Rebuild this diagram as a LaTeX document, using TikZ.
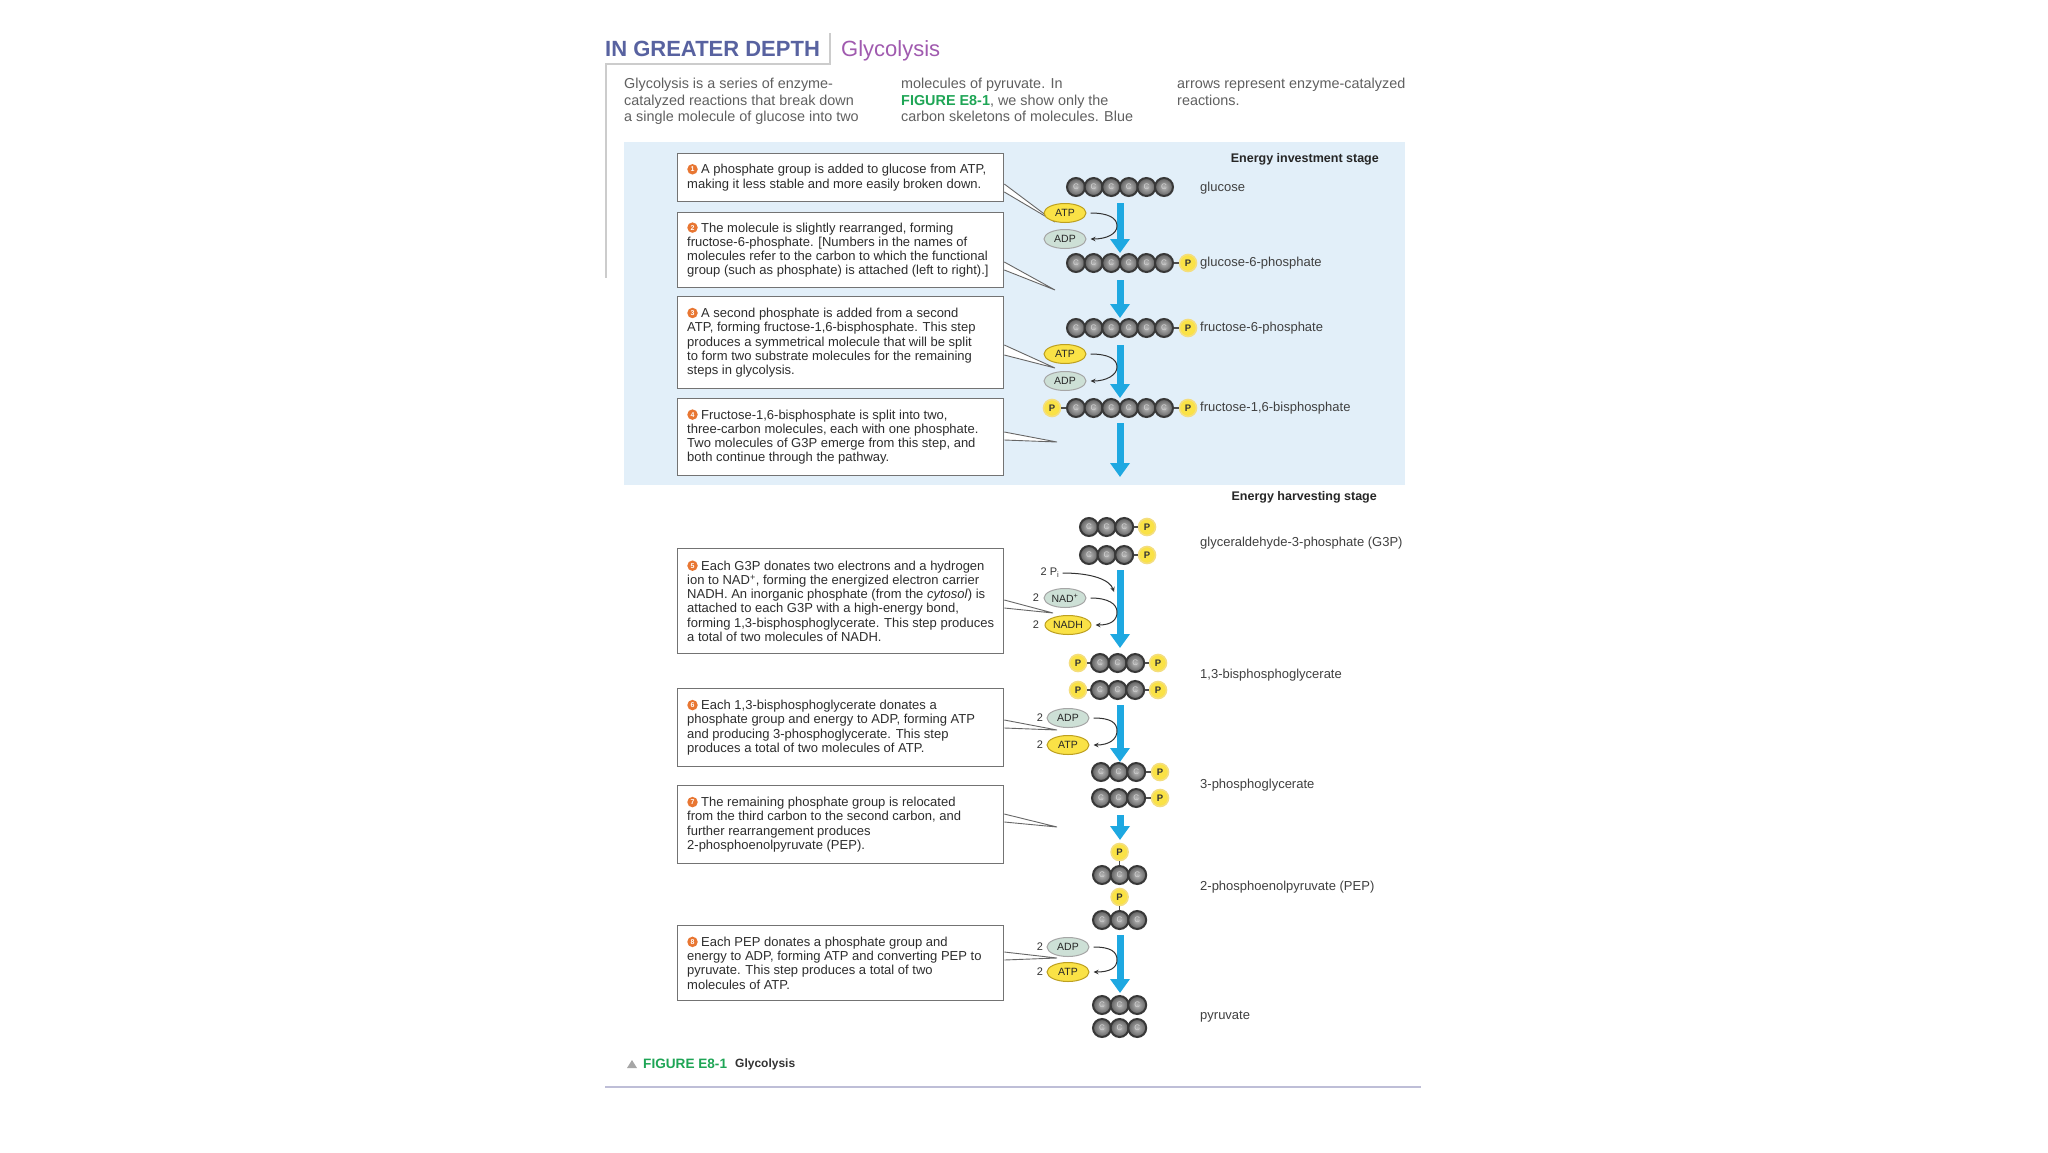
\documentclass[tikz,border=0pt]{standalone}
\usepackage{fontspec}
\setmainfont{Liberation Sans}
\usetikzlibrary{arrows.meta,shapes.geometric}
\definecolor{arrowblue}{RGB}{30,168,225}
\definecolor{panelblue}{RGB}{226,239,249}
\definecolor{titleblue}{RGB}{88,98,160}
\definecolor{titlepurple}{RGB}{160,90,175}
\definecolor{figgreen}{RGB}{30,165,85}
\definecolor{pyellow}{RGB}{250,226,70}
\definecolor{pedge}{RGB}{236,200,40}
\definecolor{cofgray}{RGB}{205,224,214}
\definecolor{numorange}{RGB}{232,118,50}
\definecolor{bodytext}{RGB}{45,45,45}
\newcommand{\chain}[4]{%
  \foreach \k in {1,...,#4} {\node[carbon] (#1\k) at ({#2+(\k-1)*17.6},#3) {C};}}
\newcommand{\callout}[4]{%
  \fill[white] (#1.east |- 0,#2) -- (#4) -- (#1.east |- 0,#3) -- cycle;
  \draw[wedgeline] (#1.east |- 0,#2) -- (#4) -- (#1.east |- 0,#3);}
\newcommand{\loopcurve}[3]{%
  \draw[curvearr] ([xshift=4pt]#1.east) .. controls +(18,0) and +(0,-8) .. (#3)
    .. controls +(0,8) and +(16,0) .. ([xshift=4pt]#2.east);}
\begin{document}
\begin{tikzpicture}[x=1pt,y=-1pt,
  carbon/.style={circle, minimum size=18pt, inner sep=0pt, draw=black!78, line width=2pt,
    inner color=gray!55, outer color=black!62, text=gray!35, font=\fontsize{8}{8}\selectfont},
  phos/.style={circle, minimum size=17pt, inner sep=0pt, fill=pyellow, draw=pedge!60, line width=1.6pt,
    font=\fontsize{9.5}{9.5}\selectfont\bfseries, text=black!80},
  bond/.style={draw=black!70, line width=1.4pt},
  cofy/.style={ellipse, minimum width=42pt, minimum height=19pt, inner sep=0pt, fill=pyellow,
    draw=pedge!80!black, line width=1pt, font=\fontsize{10.5}{10.5}\selectfont, text=black!85},
  cofg/.style={cofy, fill=cofgray, draw=gray!70},
  bluearr/.style={draw=arrowblue, line width=7pt, -{Triangle[width=19pt,length=14pt]}},
  curvearr/.style={draw=black!80, line width=1pt, -{Stealth[length=5pt,width=4.5pt]}},
  txtbox/.style={draw=black!55, line width=1.3pt, fill=white, inner sep=0pt, minimum width=326pt, anchor=north west},
  btext/.style={font=\fontsize{13}{14.2}\selectfont, text=bodytext, align=left, inner sep=0pt, anchor=west},
  numc/.style={circle, fill=numorange, inner sep=0pt, minimum size=10.5pt, text=white, font=\fontsize{7}{7}\selectfont\bfseries},
  wedgeline/.style={draw=black!60, line width=0.9pt},
  lbl/.style={font=\fontsize{13}{13}\selectfont, text=black!75, anchor=west, inner sep=0pt},
  stage/.style={font=\fontsize{12.5}{12.5}\selectfont\bfseries, text=black!85, anchor=east, inner sep=0pt},
  intro/.style={font=\fontsize{14.4}{16.5}\selectfont, text=gray!75!black, align=left, inner sep=0pt, anchor=north west},
  num2/.style={font=\fontsize{11}{11}\selectfont, text=black!80, inner sep=0pt}
]
\useasboundingbox (0,0) rectangle (2048,1152);
\fill[white] (0,0) rectangle (2048,1152);

% header
\draw[gray!40, line width=1.5pt] (830,33) -- (830,64) -- (606,64) -- (606,278);
\node[anchor=base west, font=\fontsize{22}{22}\selectfont\bfseries, text=titleblue, inner sep=0pt] (ttl) at (605,56) {IN GREATER DEPTH};
\node[anchor=base west, font=\fontsize{22}{22}\selectfont, text=titlepurple, inner sep=0pt] (sub) at (841,56) {Glycolysis};
\node[intro] (i1) at (624,78) {Glycolysis is a series of enzyme-\\catalyzed reactions that break down\\a single molecule of glucose into two};
\node[intro] (i2) at (901,78) {molecules of pyruvate. In\\{\color{figgreen}\bfseries FIGURE E8-1}, we show only the\\carbon skeletons of molecules. Blue};
\node[intro] (i3) at (1177,78) {arrows represent enzyme-catalyzed\\reactions.};

% panel
\fill[panelblue] (624,142) rectangle (1405,485);
\node[stage] (st1) at (1379,159) {Energy investment stage};
\node[stage] (st2) at (1377,497) {Energy harvesting stage};

% text boxes
\node[txtbox, minimum height=48pt] (b1) at (677,153) {};
\node[txtbox, minimum height=75pt] (b2) at (677,212) {};
\node[txtbox, minimum height=92pt] (b3) at (677,296) {};
\node[txtbox, minimum height=77pt] (b4) at (677,398) {};
\node[txtbox, minimum height=105pt] (b5) at (677,548) {};
\node[txtbox, minimum height=78pt] (b6) at (677,688) {};
\node[txtbox, minimum height=78pt] (b7) at (677,785) {};
\node[txtbox, minimum height=75pt] (b8) at (677,925) {};

\node[btext] (t1) at ([xshift=10pt]b1.west) {\hspace*{14pt}A phosphate group is added to glucose from ATP,\\making it less stable and more easily broken down.};
\node[btext] (t2) at ([xshift=10pt]b2.west) {\hspace*{14pt}The molecule is slightly rearranged, forming\\fructose-6-phosphate. [Numbers in the names of\\molecules refer to the carbon to which the functional\\group (such as phosphate) is attached (left to right).]};
\node[btext] (t3) at ([xshift=10pt]b3.west) {\hspace*{14pt}A second phosphate is added from a second\\ATP, forming fructose-1,6-bisphosphate. This step\\produces a symmetrical molecule that will be split\\to form two substrate molecules for the remaining\\steps in glycolysis.};
\node[btext] (t4) at ([xshift=10pt]b4.west) {\hspace*{14pt}Fructose-1,6-bisphosphate is split into two,\\three-carbon molecules, each with one phosphate.\\Two molecules of G3P emerge from this step, and\\both continue through the pathway.};
\node[btext] (t5) at ([xshift=10pt]b5.west) {\hspace*{14pt}Each G3P donates two electrons and a hydrogen\\ion to NAD\textsuperscript{+}, forming the energized electron carrier\\NADH. An inorganic phosphate (from the \textit{cytosol}) is\\attached to each G3P with a high-energy bond,\\forming 1,3-bisphosphoglycerate. This step produces\\a total of two molecules of NADH.};
\node[btext] (t6) at ([xshift=10pt]b6.west) {\hspace*{14pt}Each 1,3-bisphosphoglycerate donates a\\phosphate group and energy to ADP, forming ATP\\and producing 3-phosphoglycerate. This step\\produces a total of two molecules of ATP.};
\node[btext] (t7) at ([xshift=10pt]b7.west) {\hspace*{14pt}The remaining phosphate group is relocated\\from the third carbon to the second carbon, and\\further rearrangement produces\\2-phosphoenolpyruvate (PEP).};
\node[btext] (t8) at ([xshift=10pt]b8.west) {\hspace*{14pt}Each PEP donates a phosphate group and\\energy to ADP, forming ATP and converting PEP to\\pyruvate. This step produces a total of two\\molecules of ATP.};

\foreach \i in {1,...,8} {\node[numc] (n\i) at ([xshift=5.5pt,yshift=-5pt]t\i.north west) {\i};}

% callouts
\coordinate (w1) at (1055,222);
\coordinate (w2) at (1055,290);
\coordinate (w3) at (1055,368);
\coordinate (w4) at (1057,442);
\coordinate (w5) at (1053,613);
\coordinate (w6) at (1057,730);
\coordinate (w7) at (1057,827);
\coordinate (w8) at (1057,958);
\callout{b1}{184}{192}{w1}
\callout{b2}{262}{270}{w2}
\callout{b3}{345}{355}{w3}
\callout{b4}{432}{440}{w4}
\callout{b5}{600}{608}{w5}
\callout{b6}{720}{728}{w6}
\callout{b7}{814}{822}{w7}
\callout{b8}{952}{960}{w8}

% molecules
\chain{glc}{1076}{187}{6}
\chain{gsp}{1076}{263}{6}
\node[phos] (gspP) at (1188,263) {P};
\draw[bond] (gsp6.east) -- (gspP.west);
\chain{fsp}{1076}{328}{6}
\node[phos] (fspP) at (1188,328) {P};
\draw[bond] (fsp6.east) -- (fspP.west);
\chain{fbp}{1076}{408}{6}
\node[phos] (fbpL) at (1052,408) {P};
\node[phos] (fbpR) at (1188,408) {P};
\draw[bond] (fbpL.east) -- (fbp1.west);
\draw[bond] (fbp6.east) -- (fbpR.west);

\chain{gaa}{1089}{527}{3}
\node[phos] (gaaP) at (1147,527) {P};
\draw[bond] (gaa3.east) -- (gaaP.west);
\chain{gab}{1089}{555}{3}
\node[phos] (gabP) at (1147,555) {P};
\draw[bond] (gab3.east) -- (gabP.west);

\chain{bpa}{1100}{663}{3}
\node[phos] (bpaL) at (1078,663) {P};
\node[phos] (bpaR) at (1158,663) {P};
\draw[bond] (bpaL.east) -- (bpa1.west);
\draw[bond] (bpa3.east) -- (bpaR.west);
\chain{bpb}{1100}{690}{3}
\node[phos] (bpbL) at (1078,690) {P};
\node[phos] (bpbR) at (1158,690) {P};
\draw[bond] (bpbL.east) -- (bpb1.west);
\draw[bond] (bpb3.east) -- (bpbR.west);

\chain{pga}{1101}{772}{3}
\node[phos] (pgaP) at (1160,772) {P};
\draw[bond] (pga3.east) -- (pgaP.west);
\chain{pgb}{1101}{798}{3}
\node[phos] (pgbP) at (1160,798) {P};
\draw[bond] (pgb3.east) -- (pgbP.west);

\chain{pea}{1102}{875}{3}
\node[phos] (peaP) at (1119.6,852) {P};
\draw[bond] (peaP.south) -- (pea2.north);
\chain{peb}{1102}{920}{3}
\node[phos] (pebP) at (1119.6,897) {P};
\draw[bond] (pebP.south) -- (peb2.north);

\chain{pya}{1102}{1005}{3}
\chain{pyb}{1102}{1028}{3}

% labels
\node[lbl] (l1) at (1200,188) {glucose};
\node[lbl] (l2) at (1200,263) {glucose-6-phosphate};
\node[lbl] (l3) at (1200,328) {fructose-6-phosphate};
\node[lbl] (l4) at (1200,408) {fructose-1,6-bisphosphate};
\node[lbl] (l5) at (1200,543) {glyceraldehyde-3-phosphate (G3P)};
\node[lbl] (l6) at (1200,675) {1,3-bisphosphoglycerate};
\node[lbl] (l7) at (1200,785) {3-phosphoglycerate};
\node[lbl] (l8) at (1200,887) {2-phosphoenolpyruvate (PEP)};
\node[lbl] (l9) at (1200,1017) {pyruvate};

% blue arrows
\coordinate (a1s) at (1120,203); \coordinate (a1e) at (1120,253);
\coordinate (a2s) at (1120,280); \coordinate (a2e) at (1120,318);
\coordinate (a3s) at (1120,345); \coordinate (a3e) at (1120,398);
\coordinate (a4s) at (1120,423); \coordinate (a4e) at (1120,477);
\coordinate (a5s) at (1120,570); \coordinate (a5e) at (1120,648);
\coordinate (a6s) at (1120,705); \coordinate (a6e) at (1120,762);
\coordinate (a7s) at (1120,815); \coordinate (a7e) at (1120,840);
\coordinate (a8s) at (1120,935); \coordinate (a8e) at (1120,993);
\foreach \i in {1,...,8} {\draw[bluearr] (a\i s) -- (a\i e);}

% cofactors
\node[cofy] (atp1) at (1065,213) {ATP};
\node[cofg] (adp1) at (1065,239) {ADP};
\coordinate (k1) at (1117,226);
\loopcurve{atp1}{adp1}{k1}

\node[cofy] (atp2) at (1065,354) {ATP};
\node[cofg] (adp2) at (1065,381) {ADP};
\coordinate (k2) at (1117,367);
\loopcurve{atp2}{adp2}{k2}

\node[num2] (pi) at (1050,573) {2 P\textsubscript{i}};
\coordinate (pik) at (1114,592);
\draw[curvearr] ([xshift=3pt]pi.east) .. controls +(30,0) and +(-4,-12) .. (pik);
\node[cofg] (nad) at (1065,598) {NAD\textsuperscript{+}};
\node[cofy, minimum width=46pt] (nadh) at (1068,625) {NADH};
\node[num2] (nad2) at (1036,598) {2};
\node[num2] (nadh2) at (1036,625) {2};
\coordinate (k5) at (1117,612);
\loopcurve{nad}{nadh}{k5}

\node[cofg] (adp3) at (1068,718) {ADP};
\node[cofy] (atp3) at (1068,745) {ATP};
\node[num2] (adp3n) at (1040,718) {2};
\node[num2] (atp3n) at (1040,745) {2};
\coordinate (k6) at (1117,731);
\loopcurve{adp3}{atp3}{k6}

\node[cofg] (adp4) at (1068,947) {ADP};
\node[cofy] (atp4) at (1068,972) {ATP};
\node[num2] (adp4n) at (1040,947) {2};
\node[num2] (atp4n) at (1040,972) {2};
\coordinate (k8) at (1117,960);
\loopcurve{adp4}{atp4}{k8}

% caption
\fill[gray!70] (627,1068) -- (637,1068) -- (632,1060) -- cycle;
\node[anchor=west, inner sep=0pt, font=\fontsize{13.6}{13.6}\selectfont\bfseries, text=figgreen] (fig) at (643,1064) {FIGURE E8-1};
\node[anchor=west, inner sep=0pt, font=\fontsize{12}{12}\selectfont\bfseries, text=black!80] (figt) at (735,1064) {Glycolysis};
\draw[line width=2.5pt, draw={rgb,255:red,190;green,190;blue,215}] (605,1087) -- (1421,1087);
\end{tikzpicture}
\end{document}
